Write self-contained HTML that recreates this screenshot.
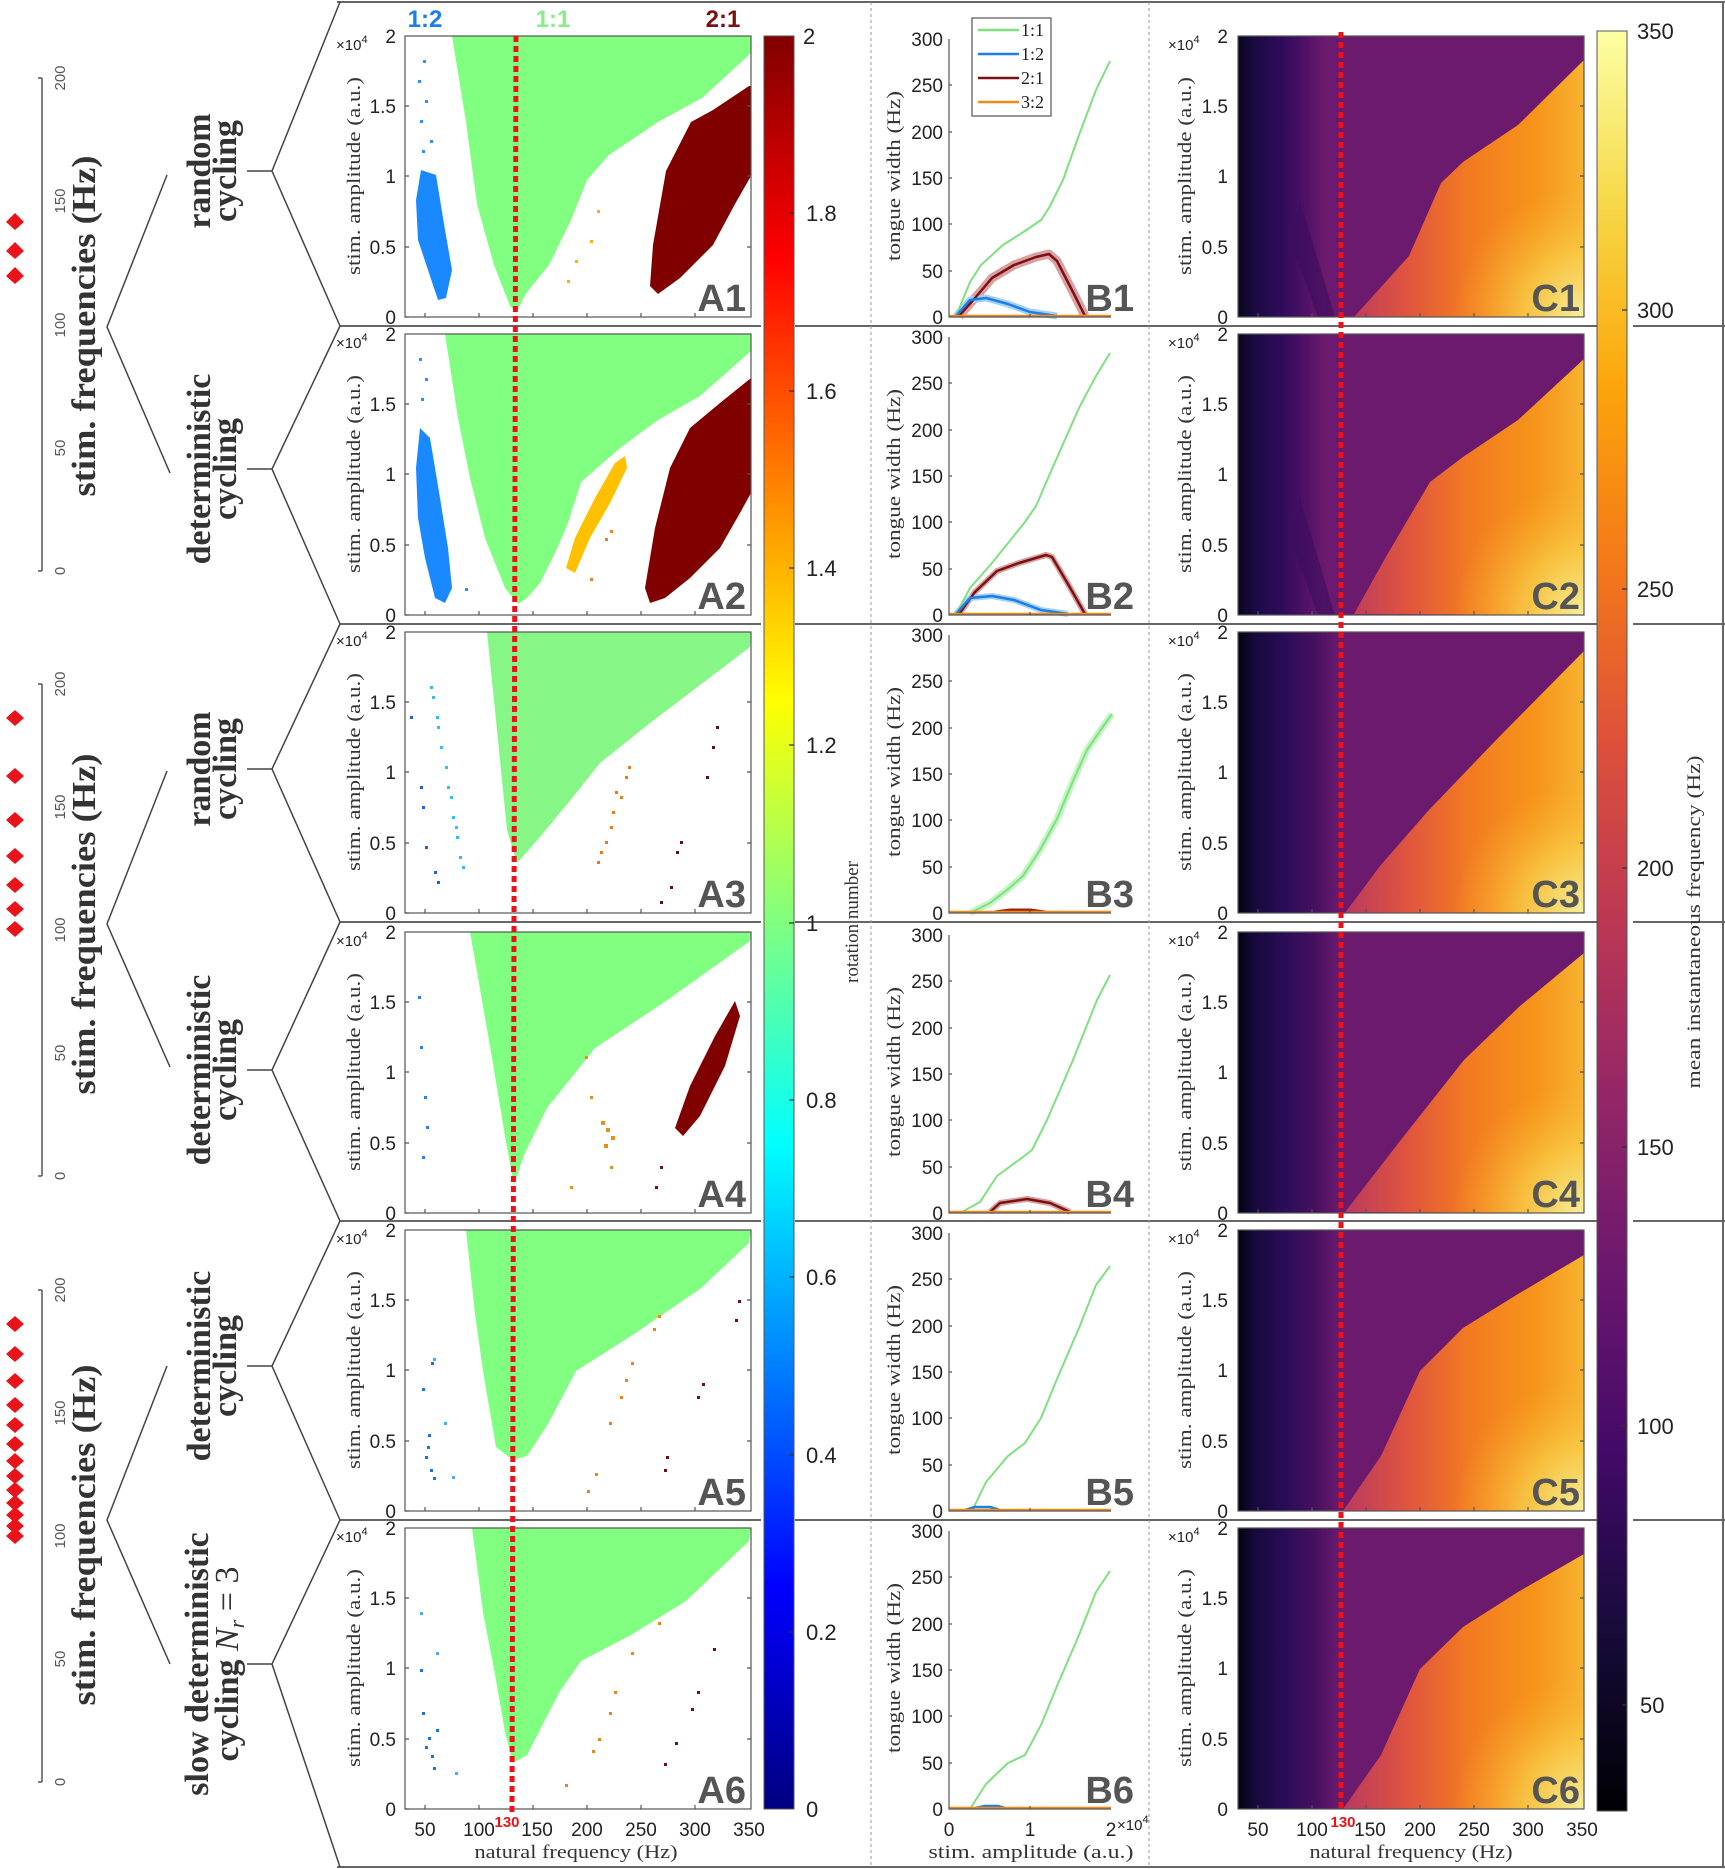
<!DOCTYPE html>
<html><head><meta charset="utf-8"><style>
html,body{margin:0;padding:0;background:#fff;}
svg{display:block;}
.sans{font-family:"Liberation Sans",sans-serif;}
.serif{font-family:"Liberation Serif",serif;}
.tk{font-family:"Liberation Sans",sans-serif;font-size:19px;fill:#222;}
.lab{font-family:"Liberation Serif",serif;font-size:19px;fill:#333;}
.pl{font-family:"Liberation Sans",sans-serif;font-size:38px;font-weight:bold;fill:#555;}
.big{font-family:"Liberation Serif",serif;font-size:34px;font-weight:bold;fill:#333;}
</style></head><body>
<svg width="1725" height="1869" viewBox="0 0 1725 1869" xmlns="http://www.w3.org/2000/svg">
<defs>
<linearGradient id="jet" x1="0" y1="0" x2="0" y2="1">
<stop offset="0" stop-color="#800000"/><stop offset="0.125" stop-color="#ff0000"/><stop offset="0.375" stop-color="#ffff00"/><stop offset="0.5" stop-color="#80ff80"/><stop offset="0.625" stop-color="#00ffff"/><stop offset="0.875" stop-color="#0000ff"/><stop offset="1" stop-color="#000080"/>
</linearGradient>
<linearGradient id="inf" x1="0" y1="0" x2="0" y2="1">
<stop offset="0" stop-color="#fcffa4"/><stop offset="0.1" stop-color="#f6d746"/><stop offset="0.2" stop-color="#fca50a"/><stop offset="0.3" stop-color="#f37819"/><stop offset="0.4" stop-color="#dd513a"/><stop offset="0.5" stop-color="#bc3754"/><stop offset="0.6" stop-color="#932667"/><stop offset="0.7" stop-color="#6a176e"/><stop offset="0.8" stop-color="#420a68"/><stop offset="0.9" stop-color="#160b39"/><stop offset="1" stop-color="#000004"/>
</linearGradient>
<linearGradient id="dk1" gradientUnits="userSpaceOnUse" x1="1238" y1="0" x2="1325" y2="0">
<stop offset="0" stop-color="#0a0620"/><stop offset="0.2" stop-color="#1c0a44"/><stop offset="0.5" stop-color="#2e0c5a"/><stop offset="0.8" stop-color="#521266"/><stop offset="1" stop-color="#6c1a6e"/>
</linearGradient>
<linearGradient id="dk2" gradientUnits="userSpaceOnUse" x1="1238" y1="0" x2="1340" y2="0">
<stop offset="0" stop-color="#030210"/><stop offset="0.15" stop-color="#150a3a"/><stop offset="0.45" stop-color="#2a0c56"/><stop offset="0.75" stop-color="#45105f"/><stop offset="1" stop-color="#6c1a6e"/>
</linearGradient>
<linearGradient id="org" gradientUnits="userSpaceOnUse" x1="1350" y1="0" x2="1584" y2="0">
<stop offset="0" stop-color="#bd3c5c"/><stop offset="0.25" stop-color="#e0553e"/><stop offset="0.5" stop-color="#f27a22"/><stop offset="0.8" stop-color="#f6951a"/><stop offset="1" stop-color="#f7b331"/>
</linearGradient>
<radialGradient id="yel" gradientUnits="userSpaceOnUse" cx="1584" cy="317" r="130">
<stop offset="0" stop-color="#f6ef9e"/><stop offset="0.5" stop-color="#f8cf4a" stop-opacity="0.7"/><stop offset="1" stop-color="#f8b030" stop-opacity="0"/>
</radialGradient>
</defs>

<g stroke="#666" stroke-width="2" fill="none">
<line x1="337" y1="2" x2="1725" y2="2"/>
<line x1="337" y1="1867" x2="1725" y2="1867"/>
<line x1="1723" y1="2" x2="1723" y2="1867"/>
</g>
<g stroke="#666" stroke-width="2">
<line x1="340" y1="326" x2="761" y2="326"/><line x1="795" y1="326" x2="1597" y2="326"/><line x1="1633" y1="326" x2="1725" y2="326"/>
<line x1="340" y1="624" x2="761" y2="624"/><line x1="795" y1="624" x2="1597" y2="624"/><line x1="1633" y1="624" x2="1725" y2="624"/>
<line x1="340" y1="922" x2="761" y2="922"/><line x1="795" y1="922" x2="1597" y2="922"/><line x1="1633" y1="922" x2="1725" y2="922"/>
<line x1="340" y1="1221" x2="761" y2="1221"/><line x1="795" y1="1221" x2="1597" y2="1221"/><line x1="1633" y1="1221" x2="1725" y2="1221"/>
<line x1="340" y1="1520" x2="761" y2="1520"/><line x1="795" y1="1520" x2="1597" y2="1520"/><line x1="1633" y1="1520" x2="1725" y2="1520"/>
</g>
<g stroke="#999" stroke-width="1" stroke-dasharray="3 3">
<line x1="871" y1="2" x2="871" y2="1867"/><line x1="1149" y1="2" x2="1149" y2="1867"/>
</g>

<g stroke="#444" stroke-width="1.5" fill="none">
<polyline points="340,2 272,171 340,326"/><line x1="247" y1="171" x2="272" y2="171"/>
<polyline points="340,326 272,469 340,624"/><line x1="247" y1="469" x2="272" y2="469"/>
<polyline points="340,624 272,769 340,922"/><line x1="247" y1="769" x2="272" y2="769"/>
<polyline points="340,922 272,1070 340,1221"/><line x1="247" y1="1070" x2="272" y2="1070"/>
<polyline points="340,1221 272,1366 340,1520"/><line x1="247" y1="1366" x2="272" y2="1366"/>
<polyline points="340,1520 272,1664 340,1867"/><line x1="247" y1="1664" x2="272" y2="1664"/>
<polyline points="167,175 107,327 170,473"/>
<polyline points="167,771 107,924 170,1067"/>
<polyline points="167,1366 107,1520 170,1664"/>
</g>

<g stroke="#555" stroke-width="1.5">
<line x1="42" y1="78" x2="42" y2="571"/><line x1="38" y1="78" x2="42" y2="78"/><line x1="38" y1="571" x2="42" y2="571"/>
<line x1="42" y1="684" x2="42" y2="1176"/><line x1="38" y1="684" x2="42" y2="684"/><line x1="38" y1="1176" x2="42" y2="1176"/>
<line x1="42" y1="1290" x2="42" y2="1782"/><line x1="38" y1="1290" x2="42" y2="1290"/><line x1="38" y1="1782" x2="42" y2="1782"/>
</g>
<g class="sans" font-size="15" fill="#555" text-anchor="middle">
<text transform="translate(65,78) rotate(-90)">200</text><text transform="translate(65,201) rotate(-90)">150</text><text transform="translate(65,325) rotate(-90)">100</text><text transform="translate(65,448) rotate(-90)">50</text><text transform="translate(65,571) rotate(-90)">0</text>
<text transform="translate(65,684) rotate(-90)">200</text><text transform="translate(65,807) rotate(-90)">150</text><text transform="translate(65,930) rotate(-90)">100</text><text transform="translate(65,1053) rotate(-90)">50</text><text transform="translate(65,1176) rotate(-90)">0</text>
<text transform="translate(65,1290) rotate(-90)">200</text><text transform="translate(65,1413) rotate(-90)">150</text><text transform="translate(65,1536) rotate(-90)">100</text><text transform="translate(65,1659) rotate(-90)">50</text><text transform="translate(65,1782) rotate(-90)">0</text>
</g>
<g class="big" text-anchor="middle">
<text transform="translate(95,326) rotate(-90)" textLength="341" lengthAdjust="spacingAndGlyphs">stim.  frequencies  (Hz)</text>
<text transform="translate(95,924) rotate(-90)" textLength="341" lengthAdjust="spacingAndGlyphs">stim.  frequencies  (Hz)</text>
<text transform="translate(95,1535) rotate(-90)" textLength="341" lengthAdjust="spacingAndGlyphs">stim.  frequencies  (Hz)</text>
<text transform="translate(210,171) rotate(-90)">random</text><text transform="translate(236,171) rotate(-90)">cycling</text>
<text transform="translate(210,469) rotate(-90)">deterministic</text><text transform="translate(236,469) rotate(-90)">cycling</text>
<text transform="translate(210,769) rotate(-90)">random</text><text transform="translate(236,769) rotate(-90)">cycling</text>
<text transform="translate(210,1070) rotate(-90)">deterministic</text><text transform="translate(236,1070) rotate(-90)">cycling</text>
<text transform="translate(210,1366) rotate(-90)">deterministic</text><text transform="translate(236,1366) rotate(-90)">cycling</text>
<text transform="translate(208,1664) rotate(-90)">slow deterministic</text><text transform="translate(238,1664) rotate(-90)">cycling <tspan font-style="italic" font-weight="normal">N</tspan><tspan font-style="italic" font-weight="normal" font-size="22" dy="6">r</tspan><tspan dy="-6" font-weight="normal"> = 3</tspan></text>
</g>
<g fill="#e8141a">
<path d="M15,213 l9,9 l-9,8 l-9,-8z"/><path d="M15,242 l9,9 l-9,8 l-9,-8z"/><path d="M15,267 l9,9 l-9,8 l-9,-8z"/>
<path d="M15,710 l9,8 l-9,8 l-9,-8z"/><path d="M15,768 l9,8 l-9,8 l-9,-8z"/><path d="M15,812 l9,8 l-9,8 l-9,-8z"/><path d="M15,848 l9,8 l-9,8 l-9,-8z"/><path d="M15,877 l9,8 l-9,8 l-9,-8z"/><path d="M15,901 l9,8 l-9,8 l-9,-8z"/><path d="M15,921 l9,8 l-9,8 l-9,-8z"/>
<path d="M15,1316 l9,8 l-9,8 l-9,-8z"/><path d="M15,1346 l9,8 l-9,8 l-9,-8z"/><path d="M15,1373 l9,8 l-9,8 l-9,-8z"/><path d="M15,1397 l9,8 l-9,8 l-9,-8z"/><path d="M15,1417 l9,8 l-9,8 l-9,-8z"/><path d="M15,1436 l9,8 l-9,8 l-9,-8z"/><path d="M15,1453 l9,8 l-9,8 l-9,-8z"/><path d="M15,1468 l9,8 l-9,8 l-9,-8z"/><path d="M15,1482 l9,8 l-9,8 l-9,-8z"/><path d="M15,1495 l9,8 l-9,8 l-9,-8z"/><path d="M15,1507 l9,8 l-9,8 l-9,-8z"/><path d="M15,1518 l9,8 l-9,8 l-9,-8z"/><path d="M15,1528 l9,8 l-9,8 l-9,-8z"/>
</g>

<g class="sans" font-size="24" font-weight="bold" text-anchor="middle">
<text x="425" y="27" fill="#1a7fe8">1:2</text><text x="553" y="27" fill="#88ee88">1:1</text><text x="723" y="27" fill="#7a1010">2:1</text>
</g>

<!-- Row shapes -->
<g>
<polygon fill="#80ff80" points="452,36 751,36 751,53 702,98 658,122 609,155 587,180 571,220 549,265 527,292 516,312 510,306 494,265 477,204 466,122"/>
<polygon fill="#1a88ff" points="421,170 436,175 445,230 452,270 446,298 438,300 428,270 418,240 416,200"/>
<polygon fill="#800000" points="749,86 713,110 691,122 666,171 653,245 650,286 658,294 680,278 713,245 735,204 751,176 751,86"/>
<g fill="#2a90ff"><rect x="422" y="150" width="3" height="3"/><rect x="420" y="120" width="3" height="3"/><rect x="425" y="100" width="3" height="3"/><rect x="418" y="80" width="3" height="3"/><rect x="423" y="60" width="3" height="3"/><rect x="430" y="140" width="3" height="3"/></g>
<g fill="#ffb000"><rect x="597" y="210" width="3" height="3"/><rect x="590" y="240" width="3" height="3"/><rect x="567" y="280" width="3" height="3"/><rect x="575" y="260" width="3" height="3"/></g>
</g>
<g transform="translate(0,298)">
<polygon fill="#80ff80" points="445,36 751,36 751,53 700,98 658,122 620,150 581,184 568,225 555,255 540,285 527,300 518,306 505,290 485,240 470,180 458,120"/>
<polygon fill="#1a88ff" points="420,130 430,140 440,200 448,250 452,290 445,305 435,300 425,260 418,220 416,170"/>
<polygon fill="#ffc000" points="566,270 575,240 595,200 615,165 625,158 627,170 610,205 590,240 575,275"/>
<polygon fill="#800000" points="751,80 720,105 690,130 670,170 655,230 645,290 650,305 665,300 690,280 720,250 740,215 751,195"/>
<g fill="#2a90ff"><rect x="421" y="100" width="3" height="3"/><rect x="425" y="80" width="3" height="3"/><rect x="419" y="60" width="3" height="3"/><rect x="465" y="290" width="3" height="3"/></g>
<g fill="#f08020"><rect x="605" y="240" width="3" height="3"/><rect x="610" y="232" width="3" height="3"/><rect x="590" y="280" width="3" height="3"/></g>
</g>
<g transform="translate(0,596)">
<polygon fill="#86f786" points="487,36 751,36 750,51 650,127 600,167 573,201 540,241 517,267 507,234 497,134"/>
<g fill="#30c0f0"><rect x="430" y="90" width="3" height="3"/><rect x="432" y="100" width="3" height="3"/><rect x="437" y="130" width="3" height="3"/><rect x="440" y="150" width="3" height="3"/><rect x="445" y="170" width="3" height="3"/><rect x="450" y="200" width="3" height="3"/><rect x="452" y="220" width="3" height="3"/><rect x="456" y="240" width="3" height="3"/><rect x="459" y="260" width="3" height="3"/><rect x="462" y="270" width="3" height="3"/><rect x="436" y="120" width="3" height="3"/><rect x="447" y="190" width="3" height="3"/><rect x="455" y="230" width="3" height="3"/></g>
<g fill="#2060e0"><rect x="420" y="190" width="3" height="3"/><rect x="422" y="210" width="3" height="3"/><rect x="425" y="250" width="3" height="3"/><rect x="434" y="275" width="3" height="3"/><rect x="437" y="285" width="3" height="3"/><rect x="410" y="120" width="3" height="3"/></g>
<g fill="#f07818"><rect x="628" y="170" width="3" height="3"/><rect x="625" y="180" width="3" height="3"/><rect x="620" y="200" width="3" height="3"/><rect x="612" y="215" width="3" height="3"/><rect x="610" y="230" width="3" height="3"/><rect x="605" y="245" width="3" height="3"/><rect x="600" y="255" width="3" height="3"/><rect x="597" y="265" width="3" height="3"/><rect x="615" y="195" width="3" height="3"/></g>
<g fill="#601010"><rect x="716" y="130" width="3" height="3"/><rect x="712" y="150" width="3" height="3"/><rect x="706" y="180" width="3" height="3"/><rect x="680" y="245" width="3" height="3"/><rect x="670" y="290" width="3" height="3"/><rect x="660" y="305" width="3" height="3"/><rect x="676" y="255" width="3" height="3"/></g>
</g>
<g transform="translate(0,896)">
<polygon fill="#80ff80" points="470,36 751,36 750,45 666,105 595,152 547,212 524,259 514,289 505,240 490,150"/>
<polygon fill="#800000" points="735,105 740,120 725,170 700,220 683,240 675,232 690,190 715,140"/>
<g fill="#2a80f0"><rect x="418" y="100" width="3" height="3"/><rect x="420" y="150" width="3" height="3"/><rect x="424" y="200" width="3" height="3"/><rect x="426" y="230" width="3" height="3"/><rect x="422" y="260" width="3" height="3"/></g>
<g fill="#f08a18"><rect x="601" y="225" width="4" height="4"/><rect x="606" y="232" width="4" height="4"/><rect x="611" y="240" width="4" height="4"/><rect x="604" y="248" width="4" height="4"/><rect x="590" y="200" width="3" height="3"/><rect x="585" y="160" width="3" height="3"/><rect x="610" y="270" width="3" height="3"/><rect x="570" y="290" width="3" height="3"/></g>
<g fill="#801010"><rect x="660" y="270" width="3" height="3"/><rect x="655" y="290" width="3" height="3"/></g>
</g>
<g transform="translate(0,1194)">
<polygon fill="#80ff80" points="466,36 751,36 749,49 700,95 631,142 576,177 548,230 527,262 513,266 496,253 483,177 475,120"/>
<g fill="#1e70e0"><rect x="425" y="262" width="3" height="3"/><rect x="433" y="283" width="3" height="3"/><rect x="422" y="194" width="3" height="3"/><rect x="431" y="168" width="3" height="3"/><rect x="428" y="240" width="3" height="3"/><rect x="430" y="275" width="3" height="3"/><rect x="427" y="252" width="3" height="3"/></g>
<g fill="#40b0f0"><rect x="444" y="228" width="3" height="3"/><rect x="433" y="164" width="3" height="3"/><rect x="452" y="282" width="3" height="3"/></g>
<g fill="#f08018"><rect x="631" y="168" width="3" height="3"/><rect x="620" y="202" width="3" height="3"/><rect x="609" y="228" width="3" height="3"/><rect x="595" y="279" width="3" height="3"/><rect x="587" y="296" width="3" height="3"/><rect x="653" y="134" width="3" height="3"/><rect x="658" y="121" width="3" height="3"/><rect x="625" y="185" width="3" height="3"/></g>
<g fill="#701010"><rect x="702" y="189" width="3" height="3"/><rect x="697" y="202" width="3" height="3"/><rect x="666" y="262" width="3" height="3"/><rect x="664" y="275" width="3" height="3"/><rect x="735" y="125" width="3" height="3"/><rect x="738" y="106" width="3" height="3"/></g>
</g>
<g transform="translate(0,1492)">
<polygon fill="#80ff80" points="472,36 751,36 749,49 686,109 631,143 581,169 560,199 527,263 513,271 505,240 494,177 483,120"/>
<g fill="#1e70e0"><rect x="425" y="254" width="3" height="3"/><rect x="431" y="263" width="3" height="3"/><rect x="422" y="220" width="3" height="3"/><rect x="433" y="275" width="3" height="3"/><rect x="420" y="177" width="3" height="3"/><rect x="436" y="237" width="3" height="3"/><rect x="428" y="245" width="3" height="3"/></g>
<g fill="#40b0f0"><rect x="436" y="160" width="3" height="3"/><rect x="420" y="120" width="3" height="3"/><rect x="455" y="280" width="3" height="3"/></g>
<g fill="#f08018"><rect x="609" y="220" width="3" height="3"/><rect x="614" y="199" width="3" height="3"/><rect x="598" y="246" width="3" height="3"/><rect x="631" y="160" width="3" height="3"/><rect x="592" y="258" width="3" height="3"/><rect x="658" y="130" width="3" height="3"/><rect x="565" y="292" width="3" height="3"/></g>
<g fill="#701010"><rect x="664" y="271" width="3" height="3"/><rect x="675" y="250" width="3" height="3"/><rect x="691" y="216" width="3" height="3"/><rect x="713" y="156" width="3" height="3"/><rect x="697" y="199" width="3" height="3"/></g>
</g>

<!-- C heatmaps -->
<g>
<rect x="1238" y="36" width="346" height="281" fill="#6c1a6e"/>
<rect x="1238" y="36" width="87" height="281" fill="url(#dk1)"/>
<polygon fill="#3a0e5e" opacity="0.6" points="1300,200 1335,317 1318,317 1290,240"/>
<polygon fill="url(#org)" points="1354,317 1409,256 1441,183 1463,162 1518,125 1584,60 1584,317"/>
<rect x="1440" y="180" width="144" height="137" fill="url(#yel)"/>
</g>
<g transform="translate(0,298)">
<rect x="1238" y="36" width="346" height="281" fill="#6c1a6e"/>
<rect x="1238" y="36" width="87" height="281" fill="url(#dk1)"/>
<polygon fill="#3a0e5e" opacity="0.6" points="1300,200 1335,317 1318,317 1290,240"/>
<polygon fill="url(#org)" points="1354,316 1387,257 1430,184 1463,159 1518,122 1584,61 1584,317"/>
<rect x="1440" y="180" width="144" height="137" fill="url(#yel)"/>
</g>
<g transform="translate(0,596)">
<rect x="1238" y="36" width="346" height="281" fill="#6c1a6e"/>
<rect x="1238" y="36" width="102" height="281" fill="url(#dk2)"/>
<polygon fill="url(#org)" points="1345,317 1380,270 1428,215 1500,140 1584,55 1584,317"/>
<rect x="1440" y="180" width="144" height="137" fill="url(#yel)"/>
</g>
<g transform="translate(0,896)">
<rect x="1238" y="36" width="346" height="281" fill="#6c1a6e"/>
<rect x="1238" y="36" width="102" height="281" fill="url(#dk2)"/>
<polygon fill="url(#org)" points="1345,316 1400,245 1464,164 1520,110 1584,57 1584,317"/>
<rect x="1440" y="180" width="144" height="137" fill="url(#yel)"/>
</g>
<g transform="translate(0,1194)">
<rect x="1238" y="36" width="346" height="281" fill="#6c1a6e"/>
<rect x="1238" y="36" width="102" height="281" fill="url(#dk2)"/>
<polygon fill="url(#org)" points="1343,317 1381,262 1420,177 1463,134 1518,100 1584,61 1584,317"/>
<rect x="1440" y="180" width="144" height="137" fill="url(#yel)"/>
</g>
<g transform="translate(0,1492)">
<rect x="1238" y="36" width="346" height="281" fill="#6c1a6e"/>
<rect x="1238" y="36" width="102" height="281" fill="url(#dk2)"/>
<polygon fill="url(#org)" points="1343,317 1381,263 1420,177 1463,135 1518,100 1584,62 1584,317"/>
<rect x="1440" y="180" width="144" height="137" fill="url(#yel)"/>
</g>

<!-- B curves -->
<g fill="none" stroke-linejoin="round">
<g>
<polyline stroke="#d8a0a0" stroke-width="9" points="959,316 975,298 992,278 1014,265 1036,257 1049,254 1057,261 1074,294 1085,316"/>
<polyline stroke="#a8d0f5" stroke-width="7" points="956,316 970,300 986,298 1008,304 1030,312 1057,316"/>
<polyline stroke="#7fe07f" stroke-width="2" points="956,316 970,282 981,265 1003,245 1025,231 1041,220 1049,208 1063,180 1079,135 1096,90 1110,61"/>
<polyline stroke="#7a1010" stroke-width="2.5" points="959,316 975,298 992,278 1014,265 1036,257 1049,254 1057,261 1074,294 1085,316"/>
<polyline stroke="#1a7fe8" stroke-width="2.5" points="956,316 970,300 986,298 1008,304 1030,312 1057,316"/>
<line stroke="#f08a1a" stroke-width="2.5" x1="949" y1="316" x2="1111" y2="316"/>
</g>
<g transform="translate(0,298)">
<polyline stroke="#d8a0a0" stroke-width="6" points="959,316 975,294 997,273 1019,265 1046,257 1052,259 1068,286 1085,316"/>
<polyline stroke="#a8d0f5" stroke-width="6" points="956,316 970,300 992,298 1014,302 1041,312 1068,316"/>
<polyline stroke="#7fe07f" stroke-width="2" points="956,316 970,290 992,265 1025,224 1036,208 1052,171 1079,110 1096,78 1110,55"/>
<polyline stroke="#7a1010" stroke-width="2.5" points="959,316 975,294 997,273 1019,265 1046,257 1052,259 1068,286 1085,316"/>
<polyline stroke="#1a7fe8" stroke-width="2.5" points="956,316 970,300 992,298 1014,302 1041,312 1068,316"/>
<line stroke="#f08a1a" stroke-width="2.5" x1="949" y1="316" x2="1111" y2="316"/>
</g>
<g transform="translate(0,596)">
<polyline stroke="#c5f5c5" stroke-width="7" points="970,317 990,307 1007,294 1023,280 1040,254 1057,223 1073,185 1087,154 1100,135 1112,118"/>
<polyline stroke="#7fe07f" stroke-width="2" points="970,317 990,307 1007,294 1023,280 1040,254 1057,223 1073,185 1087,154 1100,135 1112,118"/>
<polyline stroke="#a02010" stroke-width="3" points="995,316 1010,314 1030,314 1045,316"/>
<line stroke="#f08a1a" stroke-width="2.5" x1="949" y1="316" x2="1111" y2="316"/>
</g>
<g transform="translate(0,896)">
<polyline stroke="#7fe07f" stroke-width="2" points="960,317 980,306 997,280 1023,261 1032,254 1047,224 1073,164 1097,104 1110,79"/>
<polyline stroke="#d8a0a0" stroke-width="6" points="990,316 1000,307 1027,303 1050,307 1070,316"/>
<polyline stroke="#7a1010" stroke-width="2.5" points="990,316 1000,307 1027,303 1050,307 1070,316"/>
<line stroke="#f08a1a" stroke-width="2.5" x1="949" y1="316" x2="1111" y2="316"/>
</g>
<g transform="translate(0,1194)">
<polyline stroke="#7fe07f" stroke-width="2" points="972,317 986,288 1008,262 1025,249 1041,224 1057,185 1079,134 1096,91 1110,72"/>
<polyline stroke="#1a7fe8" stroke-width="2.5" points="965,316 975,313 990,313 1000,316"/>
<line stroke="#f08a1a" stroke-width="2.5" x1="949" y1="316" x2="1111" y2="316"/>
</g>
<g transform="translate(0,1492)">
<polyline stroke="#7fe07f" stroke-width="2" points="970,317 986,292 1008,271 1025,263 1041,233 1057,194 1079,143 1096,100 1110,79"/>
<polyline stroke="#1a7fe8" stroke-width="2.5" points="975,316 985,314 998,314 1005,316"/>
<line stroke="#f08a1a" stroke-width="2.5" x1="949" y1="316" x2="1111" y2="316"/>
</g>
</g>

<rect x="972" y="18" width="79" height="98" fill="#fff" stroke="#555" stroke-width="1.2"/>
<g stroke-width="2.5"><line x1="978" y1="30" x2="1019" y2="30" stroke="#7fe07f"/><line x1="978" y1="54" x2="1019" y2="54" stroke="#1a7fe8"/><line x1="978" y1="78" x2="1019" y2="78" stroke="#7a1010"/><line x1="978" y1="102" x2="1019" y2="102" stroke="#f08a1a"/></g>
<g class="serif" font-size="18" fill="#222"><text x="1021" y="36">1:1</text><text x="1021" y="60">1:2</text><text x="1021" y="84">2:1</text><text x="1021" y="108">3:2</text></g>

<!-- axes frames -->
<g fill="none" stroke="#555" stroke-width="1.2">
<g><rect x="405" y="36" width="346" height="281"/><rect x="1238" y="36" width="346" height="281"/><path d="M949,39V317H1111"/></g>
<g transform="translate(0,298)"><rect x="405" y="36" width="346" height="281"/><rect x="1238" y="36" width="346" height="281"/><path d="M949,39V317H1111"/></g>
<g transform="translate(0,596)"><rect x="405" y="36" width="346" height="281"/><rect x="1238" y="36" width="346" height="281"/><path d="M949,39V317H1111"/></g>
<g transform="translate(0,896)"><rect x="405" y="36" width="346" height="281"/><rect x="1238" y="36" width="346" height="281"/><path d="M949,39V317H1111"/></g>
<g transform="translate(0,1194)"><rect x="405" y="36" width="346" height="281"/><rect x="1238" y="36" width="346" height="281"/><path d="M949,39V317H1111"/></g>
<g transform="translate(0,1492)"><rect x="405" y="36" width="346" height="281"/><rect x="1238" y="36" width="346" height="281"/><path d="M949,39V317H1111"/></g>
</g>

<g stroke="#555" stroke-width="1.2">
<path d="M405,317h4M405,247h4M405,176h4M405,106h4M751,247h-4M751,176h-4M751,106h-4M425,317v-4M479,317v-4M533,317v-4M587,317v-4M641,317v-4M695,317v-4M1258,317v-4M1312,317v-4M1366,317v-4M1420,317v-4M1474,317v-4M1528,317v-4M1584,247h-4M1584,176h-4M1584,106h-4M949,85h3M949,132h3M949,178h3M949,224h3M949,271h3M1030,317v-3"/>
<path transform="translate(0,298)" d="M405,317h4M405,247h4M405,176h4M405,106h4M751,247h-4M751,176h-4M751,106h-4M425,317v-4M479,317v-4M533,317v-4M587,317v-4M641,317v-4M695,317v-4M1258,317v-4M1312,317v-4M1366,317v-4M1420,317v-4M1474,317v-4M1528,317v-4M1584,247h-4M1584,176h-4M1584,106h-4M949,85h3M949,132h3M949,178h3M949,224h3M949,271h3M1030,317v-3"/>
<path transform="translate(0,596)" d="M405,317h4M405,247h4M405,176h4M405,106h4M751,247h-4M751,176h-4M751,106h-4M425,317v-4M479,317v-4M533,317v-4M587,317v-4M641,317v-4M695,317v-4M1258,317v-4M1312,317v-4M1366,317v-4M1420,317v-4M1474,317v-4M1528,317v-4M1584,247h-4M1584,176h-4M1584,106h-4M949,85h3M949,132h3M949,178h3M949,224h3M949,271h3M1030,317v-3"/>
<path transform="translate(0,896)" d="M405,317h4M405,247h4M405,176h4M405,106h4M751,247h-4M751,176h-4M751,106h-4M425,317v-4M479,317v-4M533,317v-4M587,317v-4M641,317v-4M695,317v-4M1258,317v-4M1312,317v-4M1366,317v-4M1420,317v-4M1474,317v-4M1528,317v-4M1584,247h-4M1584,176h-4M1584,106h-4M949,85h3M949,132h3M949,178h3M949,224h3M949,271h3M1030,317v-3"/>
<path transform="translate(0,1194)" d="M405,317h4M405,247h4M405,176h4M405,106h4M751,247h-4M751,176h-4M751,106h-4M425,317v-4M479,317v-4M533,317v-4M587,317v-4M641,317v-4M695,317v-4M1258,317v-4M1312,317v-4M1366,317v-4M1420,317v-4M1474,317v-4M1528,317v-4M1584,247h-4M1584,176h-4M1584,106h-4M949,85h3M949,132h3M949,178h3M949,224h3M949,271h3M1030,317v-3"/>
<path transform="translate(0,1492)" d="M405,317h4M405,247h4M405,176h4M405,106h4M751,247h-4M751,176h-4M751,106h-4M425,317v-4M479,317v-4M533,317v-4M587,317v-4M641,317v-4M695,317v-4M1258,317v-4M1312,317v-4M1366,317v-4M1420,317v-4M1474,317v-4M1528,317v-4M1584,247h-4M1584,176h-4M1584,106h-4M949,85h3M949,132h3M949,178h3M949,224h3M949,271h3M1030,317v-3"/>
</g>

<g>
<g class="tk" text-anchor="end"><text x="396" y="324">0</text><text x="396" y="254">0.5</text><text x="396" y="183">1</text><text x="396" y="113">1.5</text><text x="396" y="43">2</text>
<text x="1228" y="324">0</text><text x="1228" y="254">0.5</text><text x="1228" y="183">1</text><text x="1228" y="113">1.5</text><text x="1228" y="43">2</text>
<text x="943" y="324">0</text><text x="943" y="278">50</text><text x="943" y="231">100</text><text x="943" y="185">150</text><text x="943" y="139">200</text><text x="943" y="92">250</text><text x="943" y="46">300</text></g>
<text class="sans" font-size="15" fill="#222" x="336" y="50">×10<tspan font-size="11" dy="-7">4</tspan></text>
<text class="sans" font-size="15" fill="#222" x="1168" y="50">×10<tspan font-size="11" dy="-7">4</tspan></text>
<text class="lab" text-anchor="middle" transform="translate(360,176) rotate(-90)" textLength="198" lengthAdjust="spacingAndGlyphs">stim. amplitude (a.u.)</text>
<text class="lab" text-anchor="middle" transform="translate(1191,176) rotate(-90)" textLength="198" lengthAdjust="spacingAndGlyphs">stim. amplitude (a.u.)</text>
<text class="lab" text-anchor="middle" transform="translate(900,176) rotate(-90)" textLength="170" lengthAdjust="spacingAndGlyphs">tongue width (Hz)</text>
<text class="pl" x="746" y="311" text-anchor="end">A1</text><text class="pl" x="1134" y="311" text-anchor="end">B1</text><text class="pl" x="1580" y="311" text-anchor="end">C1</text>
</g>
<g transform="translate(0,298)">
<g class="tk" text-anchor="end"><text x="396" y="324">0</text><text x="396" y="254">0.5</text><text x="396" y="183">1</text><text x="396" y="113">1.5</text><text x="396" y="43">2</text>
<text x="1228" y="324">0</text><text x="1228" y="254">0.5</text><text x="1228" y="183">1</text><text x="1228" y="113">1.5</text><text x="1228" y="43">2</text>
<text x="943" y="324">0</text><text x="943" y="278">50</text><text x="943" y="231">100</text><text x="943" y="185">150</text><text x="943" y="139">200</text><text x="943" y="92">250</text><text x="943" y="46">300</text></g>
<text class="sans" font-size="15" fill="#222" x="336" y="50">×10<tspan font-size="11" dy="-7">4</tspan></text>
<text class="sans" font-size="15" fill="#222" x="1168" y="50">×10<tspan font-size="11" dy="-7">4</tspan></text>
<text class="lab" text-anchor="middle" transform="translate(360,176) rotate(-90)" textLength="198" lengthAdjust="spacingAndGlyphs">stim. amplitude (a.u.)</text>
<text class="lab" text-anchor="middle" transform="translate(1191,176) rotate(-90)" textLength="198" lengthAdjust="spacingAndGlyphs">stim. amplitude (a.u.)</text>
<text class="lab" text-anchor="middle" transform="translate(900,176) rotate(-90)" textLength="170" lengthAdjust="spacingAndGlyphs">tongue width (Hz)</text>
<text class="pl" x="746" y="311" text-anchor="end">A2</text><text class="pl" x="1134" y="311" text-anchor="end">B2</text><text class="pl" x="1580" y="311" text-anchor="end">C2</text>
</g>
<g transform="translate(0,596)">
<g class="tk" text-anchor="end"><text x="396" y="324">0</text><text x="396" y="254">0.5</text><text x="396" y="183">1</text><text x="396" y="113">1.5</text><text x="396" y="43">2</text>
<text x="1228" y="324">0</text><text x="1228" y="254">0.5</text><text x="1228" y="183">1</text><text x="1228" y="113">1.5</text><text x="1228" y="43">2</text>
<text x="943" y="324">0</text><text x="943" y="278">50</text><text x="943" y="231">100</text><text x="943" y="185">150</text><text x="943" y="139">200</text><text x="943" y="92">250</text><text x="943" y="46">300</text></g>
<text class="sans" font-size="15" fill="#222" x="336" y="50">×10<tspan font-size="11" dy="-7">4</tspan></text>
<text class="sans" font-size="15" fill="#222" x="1168" y="50">×10<tspan font-size="11" dy="-7">4</tspan></text>
<text class="lab" text-anchor="middle" transform="translate(360,176) rotate(-90)" textLength="198" lengthAdjust="spacingAndGlyphs">stim. amplitude (a.u.)</text>
<text class="lab" text-anchor="middle" transform="translate(1191,176) rotate(-90)" textLength="198" lengthAdjust="spacingAndGlyphs">stim. amplitude (a.u.)</text>
<text class="lab" text-anchor="middle" transform="translate(900,176) rotate(-90)" textLength="170" lengthAdjust="spacingAndGlyphs">tongue width (Hz)</text>
<text class="pl" x="746" y="311" text-anchor="end">A3</text><text class="pl" x="1134" y="311" text-anchor="end">B3</text><text class="pl" x="1580" y="311" text-anchor="end">C3</text>
</g>
<g transform="translate(0,896)">
<g class="tk" text-anchor="end"><text x="396" y="324">0</text><text x="396" y="254">0.5</text><text x="396" y="183">1</text><text x="396" y="113">1.5</text><text x="396" y="43">2</text>
<text x="1228" y="324">0</text><text x="1228" y="254">0.5</text><text x="1228" y="183">1</text><text x="1228" y="113">1.5</text><text x="1228" y="43">2</text>
<text x="943" y="324">0</text><text x="943" y="278">50</text><text x="943" y="231">100</text><text x="943" y="185">150</text><text x="943" y="139">200</text><text x="943" y="92">250</text><text x="943" y="46">300</text></g>
<text class="sans" font-size="15" fill="#222" x="336" y="50">×10<tspan font-size="11" dy="-7">4</tspan></text>
<text class="sans" font-size="15" fill="#222" x="1168" y="50">×10<tspan font-size="11" dy="-7">4</tspan></text>
<text class="lab" text-anchor="middle" transform="translate(360,176) rotate(-90)" textLength="198" lengthAdjust="spacingAndGlyphs">stim. amplitude (a.u.)</text>
<text class="lab" text-anchor="middle" transform="translate(1191,176) rotate(-90)" textLength="198" lengthAdjust="spacingAndGlyphs">stim. amplitude (a.u.)</text>
<text class="lab" text-anchor="middle" transform="translate(900,176) rotate(-90)" textLength="170" lengthAdjust="spacingAndGlyphs">tongue width (Hz)</text>
<text class="pl" x="746" y="311" text-anchor="end">A4</text><text class="pl" x="1134" y="311" text-anchor="end">B4</text><text class="pl" x="1580" y="311" text-anchor="end">C4</text>
</g>
<g transform="translate(0,1194)">
<g class="tk" text-anchor="end"><text x="396" y="324">0</text><text x="396" y="254">0.5</text><text x="396" y="183">1</text><text x="396" y="113">1.5</text><text x="396" y="43">2</text>
<text x="1228" y="324">0</text><text x="1228" y="254">0.5</text><text x="1228" y="183">1</text><text x="1228" y="113">1.5</text><text x="1228" y="43">2</text>
<text x="943" y="324">0</text><text x="943" y="278">50</text><text x="943" y="231">100</text><text x="943" y="185">150</text><text x="943" y="139">200</text><text x="943" y="92">250</text><text x="943" y="46">300</text></g>
<text class="sans" font-size="15" fill="#222" x="336" y="50">×10<tspan font-size="11" dy="-7">4</tspan></text>
<text class="sans" font-size="15" fill="#222" x="1168" y="50">×10<tspan font-size="11" dy="-7">4</tspan></text>
<text class="lab" text-anchor="middle" transform="translate(360,176) rotate(-90)" textLength="198" lengthAdjust="spacingAndGlyphs">stim. amplitude (a.u.)</text>
<text class="lab" text-anchor="middle" transform="translate(1191,176) rotate(-90)" textLength="198" lengthAdjust="spacingAndGlyphs">stim. amplitude (a.u.)</text>
<text class="lab" text-anchor="middle" transform="translate(900,176) rotate(-90)" textLength="170" lengthAdjust="spacingAndGlyphs">tongue width (Hz)</text>
<text class="pl" x="746" y="311" text-anchor="end">A5</text><text class="pl" x="1134" y="311" text-anchor="end">B5</text><text class="pl" x="1580" y="311" text-anchor="end">C5</text>
</g>
<g transform="translate(0,1492)">
<g class="tk" text-anchor="end"><text x="396" y="324">0</text><text x="396" y="254">0.5</text><text x="396" y="183">1</text><text x="396" y="113">1.5</text><text x="396" y="43">2</text>
<text x="1228" y="324">0</text><text x="1228" y="254">0.5</text><text x="1228" y="183">1</text><text x="1228" y="113">1.5</text><text x="1228" y="43">2</text>
<text x="943" y="324">0</text><text x="943" y="278">50</text><text x="943" y="231">100</text><text x="943" y="185">150</text><text x="943" y="139">200</text><text x="943" y="92">250</text><text x="943" y="46">300</text></g>
<text class="sans" font-size="15" fill="#222" x="336" y="50">×10<tspan font-size="11" dy="-7">4</tspan></text>
<text class="sans" font-size="15" fill="#222" x="1168" y="50">×10<tspan font-size="11" dy="-7">4</tspan></text>
<text class="lab" text-anchor="middle" transform="translate(360,176) rotate(-90)" textLength="198" lengthAdjust="spacingAndGlyphs">stim. amplitude (a.u.)</text>
<text class="lab" text-anchor="middle" transform="translate(1191,176) rotate(-90)" textLength="198" lengthAdjust="spacingAndGlyphs">stim. amplitude (a.u.)</text>
<text class="lab" text-anchor="middle" transform="translate(900,176) rotate(-90)" textLength="170" lengthAdjust="spacingAndGlyphs">tongue width (Hz)</text>
<text class="pl" x="746" y="311" text-anchor="end">A6</text><text class="pl" x="1134" y="311" text-anchor="end">B6</text><text class="pl" x="1580" y="311" text-anchor="end">C6</text>
</g>

<g class="tk" text-anchor="middle">
<text x="425" y="1836">50</text><text x="479" y="1836">100</text><text x="537" y="1836">150</text><text x="587" y="1836">200</text><text x="641" y="1836">250</text><text x="695" y="1836">300</text><text x="749" y="1836">350</text>
<text x="1258" y="1836">50</text><text x="1312" y="1836">100</text><text x="1370" y="1836">150</text><text x="1420" y="1836">200</text><text x="1474" y="1836">250</text><text x="1528" y="1836">300</text><text x="1582" y="1836">350</text>
<text x="949" y="1836">0</text><text x="1030" y="1836">1</text><text x="1111" y="1836">2</text>
</g>
<text class="sans" font-size="15" fill="#222" x="1117" y="1830">×10<tspan font-size="11" dy="-7">4</tspan></text>
<g class="lab" text-anchor="middle">
<text x="576" y="1858" textLength="203" lengthAdjust="spacingAndGlyphs">natural frequency (Hz)</text>
<text x="1411" y="1858" textLength="203" lengthAdjust="spacingAndGlyphs">natural frequency (Hz)</text>
<text x="1031" y="1858" textLength="205" lengthAdjust="spacingAndGlyphs">stim. amplitude (a.u.)</text>
</g>

<g stroke="#e8141a" stroke-width="5" stroke-dasharray="6 4">
<line x1="516" y1="36" x2="512" y2="1812"/>
<line x1="1341" y1="32" x2="1341" y2="1812"/>
</g>
<g class="sans" font-size="15" font-weight="bold" fill="#e8141a" text-anchor="middle">
<text x="507" y="1827">130</text><text x="1343" y="1827">130</text>
</g>

<rect x="764" y="36" width="30" height="1773" fill="url(#jet)" stroke="#555" stroke-width="1"/>
<g stroke="#333" stroke-width="1.2"><path d="M789,213h5M789,391h5M789,568h5M789,745h5M789,923h5M789,1100h5M789,1277h5M789,1455h5M789,1632h5"/></g>
<g class="sans" font-size="22" fill="#222">
<text x="803" y="44">2</text><text x="806" y="221">1.8</text><text x="806" y="399">1.6</text><text x="806" y="576">1.4</text><text x="806" y="753">1.2</text><text x="806" y="931">1</text><text x="806" y="1108">0.8</text><text x="806" y="1285">0.6</text><text x="806" y="1463">0.4</text><text x="806" y="1640">0.2</text><text x="806" y="1817">0</text>
</g>
<text class="lab" text-anchor="middle" transform="translate(858,922) rotate(-90)">rotation number</text>

<rect x="1597" y="31" width="30" height="1780" fill="url(#inf)" stroke="#555" stroke-width="1"/>
<g stroke="#333" stroke-width="1.2"><path d="M1622,310h5M1622,589h5M1622,868h5M1622,1147h5M1622,1426h5M1622,1705h5"/></g>
<g class="sans" font-size="22" fill="#222">
<text x="1637" y="39">350</text><text x="1637" y="318">300</text><text x="1637" y="597">250</text><text x="1637" y="876">200</text><text x="1637" y="1155">150</text><text x="1637" y="1434">100</text><text x="1640" y="1713">50</text>
</g>
<text class="lab" text-anchor="middle" transform="translate(1700,922) rotate(-90)" textLength="333" lengthAdjust="spacingAndGlyphs">mean instantaneous frequency (Hz)</text>
</svg>
</body></html>
